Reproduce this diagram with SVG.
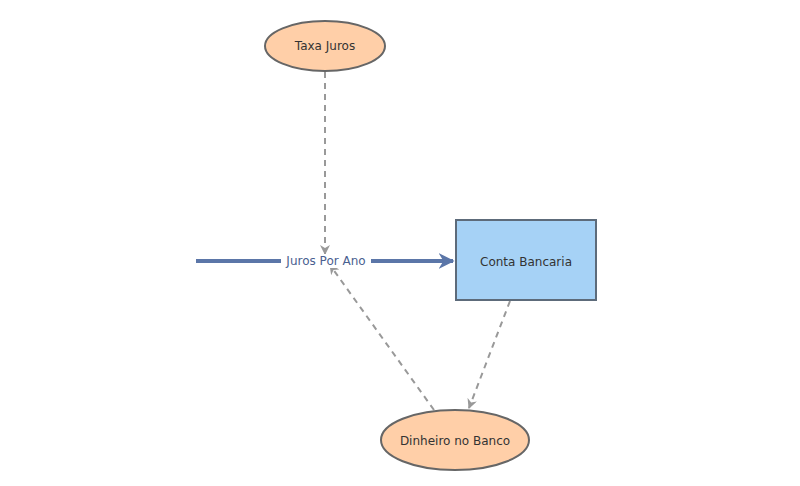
<svg xmlns="http://www.w3.org/2000/svg" width="800" height="486" viewBox="0 0 800 486">
<style>
text{font-family:"DejaVu Sans","Liberation Sans",sans-serif;font-size:12px;fill:#333;text-anchor:middle;dominant-baseline:central}
.ell{fill:#ffcfa8;stroke:#666;stroke-width:2}
.dash{fill:none;stroke:#999;stroke-width:2;stroke-dasharray:6,5}
</style>
<defs>
<marker id="ga" viewBox="0 0 10 10" refX="9" refY="5" markerWidth="5" markerHeight="5" orient="auto" markerUnits="strokeWidth"><path d="M0,0L10,5L0,10L3,5z" fill="#999"/></marker>
<marker id="ba" viewBox="0 0 10 10" refX="9" refY="5" markerWidth="4" markerHeight="4" orient="auto" markerUnits="strokeWidth"><path d="M0,0L10,5L0,10L3,5z" fill="#5b76a8"/></marker>
</defs>
<g id="connectors">
<line x1="196" y1="261" x2="453" y2="261" stroke="#5b76a8" stroke-width="4" marker-end="url(#ba)"/>
<path class="dash" d="M325,72V254" marker-end="url(#ga)"/>
<path class="dash" d="M434,410L330,265" marker-end="url(#ga)"/>
<path class="dash" d="M510,301L469,408" marker-end="url(#ga)"/>
<rect x="281" y="254" width="90" height="14" fill="#fff"/>
<text x="326" y="261" style="fill:#4a6090">Juros Por Ano</text>
</g>
<g id="taxa"><ellipse class="ell" cx="325" cy="46" rx="60" ry="25"/><text x="325" y="46">Taxa Juros</text></g>
<g id="conta"><rect x="456" y="220" width="140" height="80" fill="#a6d2f6" stroke="#5d6b7a" stroke-width="2"/><text x="526" y="262">Conta Bancaria</text></g>
<g id="dinheiro"><ellipse class="ell" cx="455" cy="440" rx="74" ry="30"/><text x="455" y="441">Dinheiro no Banco</text></g>
</svg>
